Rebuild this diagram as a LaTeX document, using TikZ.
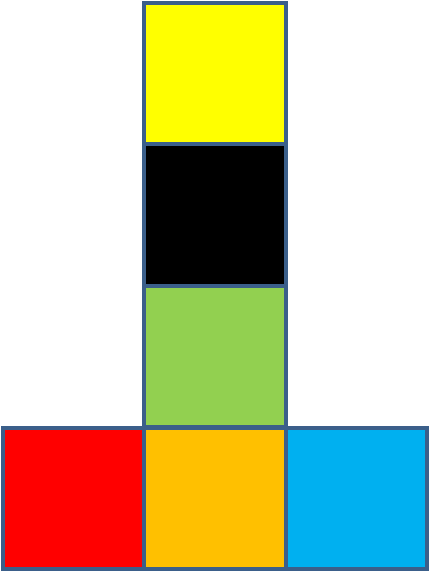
\documentclass[tikz,border=0pt]{standalone}
\usepackage{xcolor}
\definecolor{edgeblue}{HTML}{3B5F8A}
\definecolor{faceyellow}{HTML}{FFFF00}
\definecolor{facegreen}{HTML}{92D050}
\definecolor{facered}{HTML}{FF0000}
\definecolor{faceorange}{HTML}{FFC000}
\definecolor{faceblue}{HTML}{00B0F0}
\tikzset{face/.style={draw=edgeblue,line width=4pt}}

\begin{document}
\begin{tikzpicture}[x=1pt,y=-1pt]
        \useasboundingbox (0,0) rectangle (431,573);

        \foreach \col/\top/\shade in {144/2.5/faceyellow, 144/144/black, 144/285.5/facegreen,
                                       2.5/427.5/facered, 144/427.5/faceorange, 285.5/427.5/faceblue}
            \filldraw[face,fill=\shade] (\col,\top) rectangle ++(141.5,141.5);
    \end{tikzpicture}
\end{document}
